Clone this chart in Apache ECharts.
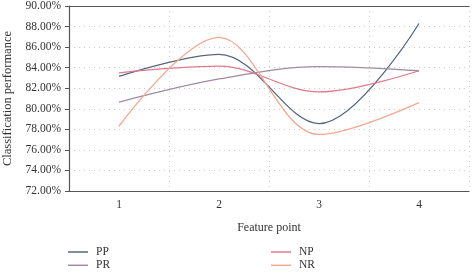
<!DOCTYPE html>
<html>
<head>
<meta charset="utf-8">
<script src="https://cdn.jsdelivr.net/npm/echarts@6/dist/echarts.min.js"></script>
<style>html,body{margin:0;padding:0;background:#fff}#c{width:474px;height:274px}</style>
</head>
<body>
<div id="c"></div>
<script>
var categories = ['1', '2', '3', '4'];
var seriesNames = ['PP', 'PR', 'NP', 'NR'];
var PP = [83.16, 85.3, 78.55, 88.3];
var PR = [80.65, 82.9, 84.1, 83.7];
var NP = [83.5, 84.15, 81.65, 83.7];
var NR = [78.3, 86.94, 77.5, 80.6];
var yTicks = { min: 72, max: 90, interval: 2 };

var colors = ['#56687c', '#a08ca0', '#e07a8c', '#f2a890'];
var font = 'Liberation Serif';
var chart = echarts.init(document.getElementById('c'));
var values = [PP, PR, NP, NR];
function legendCfg(names, left) {
  return { data: names, orient: 'vertical', left: left, top: 246, height: 40, padding: 0,
    icon: 'rect', itemWidth: 20, itemHeight: 1.5, itemGap: 1.3,
    textStyle: { fontFamily: font, fontSize: 11.5, color: '#333', lineHeight: 12, padding: [0, 0, 0, 3] } };
}
chart.setOption({
  animation: false,
  grid: { left: 69, top: 6, right: 5, bottom: 83, outerBoundsMode: 'none', containLabel: false },
  legend: [legendCfg(['PP', 'PR'], 68), legendCfg(['NP', 'NR'], 271)],
  xAxis: [{
    type: 'category', data: categories, boundaryGap: true,
    name: 'Feature point', nameLocation: 'middle', nameGap: 31,
    nameTextStyle: { fontFamily: font, fontSize: 12, color: '#333' },
    axisLine: { lineStyle: { color: '#555', width: 1.2 } },
    axisTick: { alignWithLabel: true, length: 3, lineStyle: { color: '#555' } },
    axisLabel: { fontFamily: font, fontSize: 11.5, color: '#333', margin: 8 },
    splitLine: { show: true, lineStyle: { color: '#ccc', type: [1, 4] } }
  }, {
    type: 'category', data: categories, position: 'top',
    axisLine: { lineStyle: { color: '#555', width: 1.2 } },
    axisTick: { show: false }, axisLabel: { show: false }
  }],
  yAxis: {
    type: 'value', min: yTicks.min, max: yTicks.max, interval: yTicks.interval,
    name: 'Classification performance', nameLocation: 'middle', nameGap: 52,
    nameTextStyle: { fontFamily: font, fontSize: 12.5, color: '#333' },
    axisLine: { show: true, lineStyle: { color: '#555', width: 1.2 } },
    axisTick: { show: true, length: 4, lineStyle: { color: '#555' } },
    axisLabel: { fontFamily: font, fontSize: 11.5, color: '#333', margin: 8,
      formatter: function (v) { return v.toFixed(2) + '%'; } },
    splitLine: { show: true, lineStyle: { color: '#ccc', type: [1, 4] } }
  },
  series: seriesNames.map(function (n, i) {
    return { name: n, type: 'line', data: values[i], smooth: 0.35, symbol: 'none',
      lineStyle: { width: 1.3, color: colors[i] }, itemStyle: { color: colors[i] } };
  })
});
</script>
</body>
</html>
